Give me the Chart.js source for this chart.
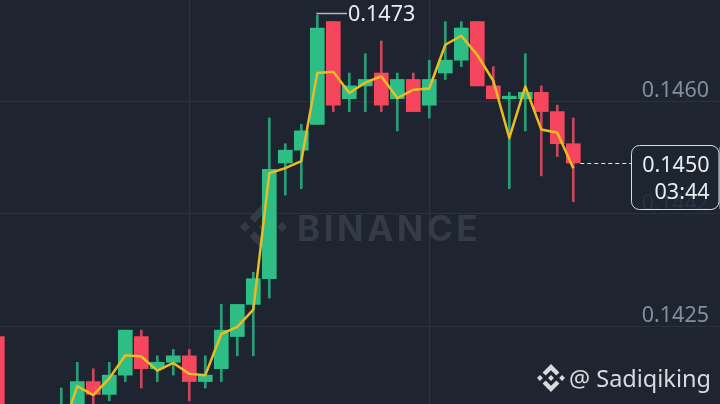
<!DOCTYPE html>
<html>
<head>
<meta charset="utf-8">
<script src="https://cdn.jsdelivr.net/npm/chart.js@4"></script>
<style>
    html, body { margin: 0; padding: 0; background: #1E2530; overflow: hidden; }
    canvas { display: block; }
</style>
</head>
<body>
<canvas id="klineChart" width="720" height="404"></canvas>
<script>
// candle values, one entry per candle (first 4 sit mostly below the frame)
const opens = [0.1423, 0.1406, 0.1407, 0.1404, 0.1408, 0.1410, 0.1416, 0.1414, 0.1417, 0.1423, 0.1418, 0.1419, 0.1420,
    0.1416, 0.1418, 0.1423, 0.1428, 0.1432, 0.1450, 0.1452, 0.1456, 0.1472, 0.1460, 0.1462, 0.1464, 0.1460, 0.1463,
    0.1459, 0.1464, 0.1466, 0.1472, 0.1462, 0.1460, 0.1460, 0.1461, 0.1458, 0.1453];
const closes = [0.1410, 0.1408, 0.1405, 0.1407, 0.1412, 0.1416, 0.1414, 0.1417, 0.1424, 0.1418, 0.1419, 0.1420, 0.1416,
    0.1417, 0.1424, 0.1428, 0.1432, 0.1449, 0.1452, 0.1455, 0.1471, 0.1459, 0.1462, 0.1463, 0.1459, 0.1463, 0.1458,
    0.1463, 0.1466, 0.1471, 0.1462, 0.1460, 0.14604, 0.1461, 0.1458, 0.1453, 0.1450];
const highs = [0.1423, 0.1409, 0.1409, 0.1408, 0.1415, 0.1419, 0.1418, 0.1419, 0.1424, 0.1424, 0.1420, 0.1421, 0.1421,
    0.1420, 0.1428, 0.1428, 0.1433, 0.1457, 0.1453, 0.1456, 0.1473, 0.1472, 0.1464, 0.1467, 0.1469, 0.1464, 0.1464,
    0.1466, 0.1472, 0.1472, 0.1472, 0.1465, 0.1461, 0.1467, 0.1462, 0.1459, 0.1457];
const lows = [0.1408, 0.1404, 0.1404, 0.1403, 0.1406, 0.1408, 0.1411, 0.1413, 0.1416, 0.1415, 0.1416, 0.1417, 0.1413,
    0.1415, 0.1416, 0.1420, 0.1420, 0.1429, 0.1445, 0.1446, 0.1456, 0.1458, 0.1458, 0.1458, 0.1458, 0.1455, 0.1458,
    0.1457, 0.1463, 0.1465, 0.1462, 0.1460, 0.1446, 0.1455, 0.1448, 0.1451, 0.1444];
const maValues = [null, null, null, null, 0.1408, 0.14153, 0.14139, 0.14165, 0.14201, 0.14199, 0.14177, 0.14189, 0.14172,
    0.14170, 0.14234, 0.14245, 0.14272, 0.14484, 0.14492, 0.14503, 0.14640, 0.14642, 0.14609, 0.14625, 0.14635, 0.14601,
    0.14614, 0.14616, 0.14684, 0.14698, 0.14668, 0.14628, 0.14539, 0.14619, 0.14552, 0.14547, 0.14492];

const gridPrices = [0.145964, 0.144214, 0.142464];
const priceLabels = ['0.1460', '0.1442', '0.1425'];
const gridCandles = [12, 27];

const highLabel = '0.1473';
const lastLabel = '0.1450';
const countdownLabel = '03:44';
const watermarkText = 'BINANCE';
const authorText = '@ Sadiqiking';

const upColor = '#2EBD85';
const downColor = '#F6465D';
const fontName = '"Noto Sans", sans-serif';

const positions = opens.map((_, i) => i);
const isUp = (i) => closes[i] >= opens[i];

// binance diamond logo, s is half of its size
function drawLogo(ctx, cx, cy, s, color) {
    ctx.save();
    ctx.translate(cx, cy);
    ctx.scale(s, s);
    ctx.fillStyle = color;
    const diamond = (x, y, r) => {
        ctx.beginPath();
        ctx.moveTo(x, y - r);
        ctx.lineTo(x + r, y);
        ctx.lineTo(x, y + r);
        ctx.lineTo(x - r, y);
        ctx.closePath();
        ctx.fill();
    };
    diamond(0, 0, 0.21);
    diamond(-0.79, 0, 0.21);
    diamond(0.79, 0, 0.21);
    [1, -1].forEach(function(d) {
        ctx.beginPath();
        ctx.moveTo(0, -d);
        ctx.lineTo(0.6, -0.4 * d);
        ctx.lineTo(0.38, -0.18 * d);
        ctx.lineTo(0, -0.56 * d);
        ctx.lineTo(-0.38, -0.18 * d);
        ctx.lineTo(-0.6, -0.4 * d);
        ctx.closePath();
        ctx.fill();
    });
    ctx.restore();
}

const decorations = {
    id: 'decorations',
    beforeDatasetsDraw: function(chart) {
        const ctx = chart.ctx;
        // watermark goes under the candles
        drawLogo(ctx, 263.5, 227, 23.5, '#343B47');
        ctx.save();
        ctx.font = 'bold 35px Inter, sans-serif';
        ctx.letterSpacing = '3.5px';
        ctx.fillStyle = '#343B47';
        ctx.textAlign = 'left';
        ctx.textBaseline = 'alphabetic';
        ctx.fillText(watermarkText, 297, 241);
        ctx.restore();
    },
    afterDraw: function(chart) {
        const ctx = chart.ctx;
        const xScale = chart.scales.x;
        const yScale = chart.scales.y;
        const lastIdx = positions.length - 1;
        const highIdx = highs.indexOf(Math.max(...highs));
        const lastY = yScale.getPixelForValue(closes[lastIdx]);
        const highY = Math.round(yScale.getPixelForValue(highs[highIdx])) - 1.5;

        ctx.save();
        // highest price marker
        ctx.strokeStyle = '#B7BAC0';
        ctx.lineWidth = 1.5;
        ctx.beginPath();
        ctx.moveTo(xScale.getPixelForValue(highIdx) - 1, highY);
        ctx.lineTo(347, highY);
        ctx.stroke();
        ctx.lineWidth = 1;
        ctx.font = '21.5px ' + fontName;
        ctx.fillStyle = '#EAECEF';
        ctx.textBaseline = 'middle';
        ctx.textAlign = 'left';
        ctx.fillText(highLabel, 348, 15);

        // dashed line to the last price box
        ctx.strokeStyle = '#E4E6EA';
        ctx.setLineDash([4, 3]);
        ctx.beginPath();
        ctx.moveTo(xScale.getPixelForValue(lastIdx) + 7, Math.round(lastY) + 0.5);
        ctx.lineTo(631, Math.round(lastY) + 0.5);
        ctx.stroke();
        ctx.setLineDash([]);

        // last price box
        ctx.fillStyle = '#6B7280';
        ctx.fillRect(719, 147, 1, 62);
        ctx.beginPath();
        ctx.roundRect(631.5, 145.5, 87.5, 64, 8);
        ctx.fillStyle = 'rgba(30, 37, 48, 0.88)';
        ctx.fill();
        ctx.strokeStyle = '#DADCE0';
        ctx.stroke();
        ctx.font = '21.5px ' + fontName;
        ctx.fillStyle = '#EAECEF';
        ctx.textAlign = 'right';
        ctx.fillText(lastLabel, 709.5, 166);
        ctx.fillText(countdownLabel, 709.5, 193);

        // author tag
        drawLogo(ctx, 551, 378, 14, '#D8DADE');
        ctx.font = '23.5px ' + fontName;
        ctx.fillStyle = '#D8DADE';
        ctx.textAlign = 'left';
        ctx.textBaseline = 'alphabetic';
        ctx.fillText(authorText, 569, 387);
        ctx.restore();
    }
};

// axes take no room, the plot fills the whole canvas
function zeroAxisSize(axis) {
    axis.paddingTop = 0;
    axis.paddingBottom = 0;
    axis.paddingLeft = 0;
    axis.paddingRight = 0;
    if (axis.isHorizontal()) {
        axis.height = 0;
    } else {
        axis.width = 0;
    }
}

new Chart(document.getElementById('klineChart').getContext('2d'), {
    type: 'bar',
    data: {
        datasets: [{
            type: 'line',
            label: 'MA',
            data: positions.map((i) => ({ x: i, y: maValues[i] })),
            borderColor: '#E8BC22',
            borderWidth: 2.5,
            borderJoinStyle: 'round',
            pointRadius: 0,
            tension: 0,
            order: 1
        }, {
            label: 'Body',
            data: positions.map((i) => ({ x: i, y: [opens[i], closes[i]] })),
            backgroundColor: positions.map((i) => isUp(i) ? upColor : downColor),
            barThickness: 14,
            borderSkipped: false,
            grouped: false,
            order: 2
        }, {
            label: 'Wick',
            data: positions.map((i) => ({ x: i, y: [lows[i], highs[i]] })),
            backgroundColor: positions.map((i) => isUp(i) ? '#2A9D78' : '#C9465E'),
            barThickness: 2,
            borderSkipped: false,
            grouped: false,
            order: 3
        }]
    },
    options: {
        responsive: false,
        animation: false,
        layout: { padding: 0 },
        plugins: {
            legend: { display: false },
            tooltip: { enabled: false }
        },
        scales: {
            x: {
                type: 'linear',
                offset: false,
                min: 0.169,
                max: 45.169,
                afterBuildTicks: function(axis) {
                    axis.ticks = gridCandles.map((v) => ({ value: v }));
                },
                afterFit: zeroAxisSize,
                border: { display: false },
                grid: { offset: false, color: '#2C323D', drawTicks: false },
                ticks: { display: false }
            },
            y: {
                type: 'linear',
                position: 'right',
                beginAtZero: false,
                min: 0.141251,
                max: 0.147536,
                afterBuildTicks: function(axis) {
                    axis.ticks = gridPrices.map((v) => ({ value: v }));
                },
                afterFit: zeroAxisSize,
                border: { display: false },
                grid: { color: '#2C323D', drawTicks: false },
                ticks: {
                    mirror: true,
                    padding: -11,
                    labelOffset: -10,
                    color: '#848E9C',
                    font: { family: fontName, size: 21.5 },
                    callback: function(value, index) {
                        return priceLabels[index];
                    }
                }
            }
        }
    },
    plugins: [decorations]
});
</script>
</body>
</html>
